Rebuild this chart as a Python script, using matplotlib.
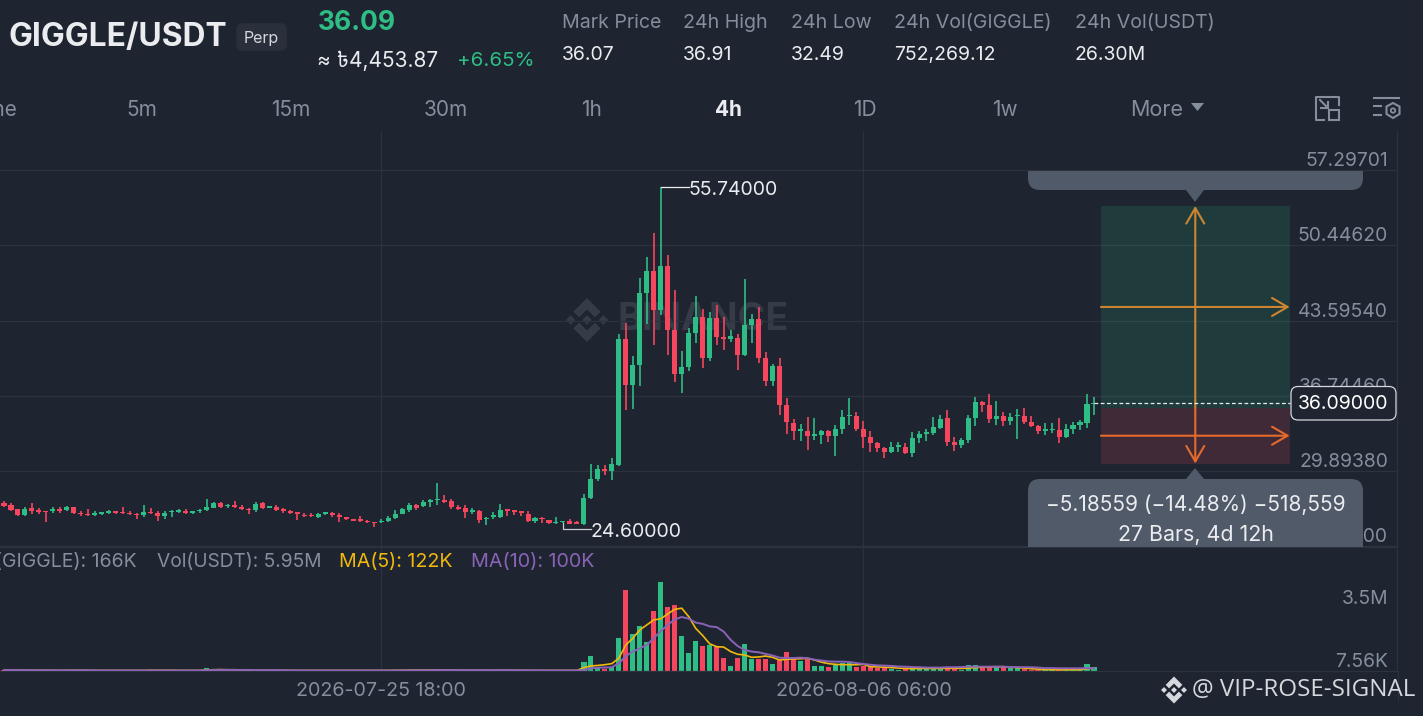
import matplotlib
matplotlib.use("Agg")
import matplotlib.pyplot as plt
from matplotlib.patches import FancyBboxPatch, Polygon, Rectangle, Circle

# candle values, one per 4h bar
open_prices = [
    26.99, 26.78, 26.42, 25.90, 26.51, 26.35, 26.23, 26.26, 26.42, 26.32,
    26.63, 26.11, 25.99, 25.93, 25.96, 26.08, 26.23, 26.17, 26.08, 25.99,
    25.90, 26.17, 26.08, 25.81, 26.17, 26.20, 26.29, 26.11, 26.26, 26.35,
    26.57, 26.99, 26.72, 26.84, 26.60, 26.48, 26.35, 26.96, 26.57, 26.66,
    26.42, 26.23, 26.11, 25.93, 25.93, 25.75, 26.02, 26.11, 25.90, 25.66,
    25.50, 25.54, 25.38, 25.26, 25.23, 25.32, 25.63, 26.02, 26.32, 26.81,
    26.69, 27.08, 27.26, 27.23, 27.14, 26.66, 26.57, 26.20, 26.23, 25.54,
    25.72, 25.75, 26.38, 26.29, 26.20, 26.02, 25.38, 25.66, 25.44, 25.17,
    25.26, 25.35, 25.29, 25.06, 27.42, 29.18, 30.09, 29.91, 30.48, 41.90,
    37.75, 39.57, 46.15, 48.09, 44.57, 48.60, 42.72, 38.78, 39.36, 42.48,
    43.96, 40.15, 43.81, 42.09, 41.96, 42.03, 40.45, 43.18, 43.72, 40.15,
    38.12, 39.42, 35.91, 34.30, 33.57, 33.57, 33.09, 33.19, 33.55, 33.07,
    33.74, 34.89, 34.95, 33.71, 33.01, 32.49, 32.01, 31.65, 32.10, 32.13,
    31.59, 32.89, 33.28, 33.34, 33.86, 34.71, 32.55, 32.25, 32.71, 34.77,
    36.19, 35.89, 34.65, 34.92, 34.49, 34.89, 34.92, 34.34, 34.01, 33.59,
    33.62, 33.68, 33.01, 33.77, 34.13, 34.31, 35.99,
]
close_prices = [
    26.75, 26.38, 25.90, 26.48, 26.29, 26.14, 26.14, 26.42, 26.23, 26.66,
    26.05, 25.96, 25.87, 26.11, 26.14, 26.26, 26.08, 26.05, 25.96, 25.90,
    26.17, 26.05, 25.81, 26.11, 26.29, 26.38, 26.11, 26.23, 26.38, 26.60,
    26.99, 26.63, 26.84, 26.63, 26.42, 26.35, 26.90, 26.54, 26.72, 26.38,
    26.23, 26.08, 26.02, 25.78, 25.78, 25.99, 26.14, 25.87, 25.75, 25.57,
    25.38, 25.38, 25.26, 25.14, 25.38, 25.66, 25.96, 26.42, 26.78, 26.57,
    27.08, 27.23, 27.35, 27.11, 26.60, 26.44, 26.17, 26.35, 25.45, 25.66,
    25.90, 26.35, 26.29, 26.20, 26.11, 25.32, 25.66, 25.50, 25.14, 25.29,
    25.38, 25.11, 25.08, 27.42, 29.18, 30.09, 29.94, 30.51, 41.90, 37.75,
    39.57, 46.15, 48.09, 44.57, 48.60, 42.72, 38.78, 39.36, 42.48, 43.96,
    40.15, 43.81, 42.12, 41.96, 42.15, 40.45, 43.18, 43.72, 40.15, 38.12,
    39.42, 35.91, 34.33, 33.57, 33.72, 33.09, 33.27, 33.55, 33.07, 33.74,
    34.86, 35.04, 33.71, 33.01, 32.49, 32.04, 31.68, 32.07, 32.25, 31.56,
    32.89, 33.25, 33.46, 33.89, 34.68, 32.55, 32.28, 32.74, 34.74, 36.19,
    35.92, 34.65, 34.92, 34.49, 34.86, 35.04, 34.34, 34.01, 33.55, 33.71,
    33.77, 33.01, 33.74, 34.10, 34.37, 36.04, 36.09,
]
high_prices = [
    27.17, 26.99, 26.48, 26.60, 26.96, 26.54, 26.23, 26.60, 26.63, 26.72,
    26.63, 26.23, 26.42, 26.26, 26.17, 26.32, 26.26, 26.60, 26.23, 26.05,
    26.78, 26.54, 26.29, 26.23, 26.35, 26.48, 26.44, 26.26, 26.44, 27.35,
    27.05, 27.08, 26.90, 27.14, 26.78, 26.54, 27.08, 27.08, 26.75, 26.78,
    26.54, 26.32, 26.20, 26.05, 26.11, 26.08, 26.17, 26.17, 26.05, 25.69,
    25.57, 25.81, 25.44, 25.29, 25.50, 25.81, 26.32, 26.54, 26.96, 26.93,
    27.26, 27.38, 28.78, 27.69, 27.38, 26.84, 26.84, 26.57, 26.32, 25.72,
    26.14, 26.93, 26.44, 26.35, 26.26, 26.23, 25.69, 25.72, 25.48, 25.72,
    25.38, 25.50, 25.38, 27.79, 30.54, 30.45, 30.45, 31.06, 42.39, 43.42,
    40.39, 47.48, 49.36, 51.54, 55.74, 49.54, 46.39, 40.81, 42.93, 45.81,
    44.63, 44.36, 44.97, 43.96, 42.75, 42.39, 47.39, 44.15, 44.87, 40.75,
    39.66, 40.18, 36.57, 34.60, 34.18, 34.81, 34.72, 33.65, 33.65, 34.07,
    35.43, 36.55, 35.31, 34.46, 33.55, 32.59, 32.07, 32.55, 32.52, 32.43,
    33.46, 33.55, 33.71, 34.83, 35.04, 35.43, 32.98, 32.89, 35.04, 36.62,
    36.28, 36.92, 36.28, 35.28, 35.19, 35.55, 35.65, 34.92, 34.10, 34.25,
    34.28, 34.74, 34.19, 34.37, 34.55, 36.92, 36.62,
]
low_prices = [
    26.63, 26.29, 25.84, 25.84, 26.02, 25.99, 25.26, 26.08, 26.11, 26.23,
    26.02, 25.81, 25.78, 25.84, 25.90, 25.99, 26.02, 25.99, 25.90, 25.54,
    25.69, 25.99, 25.38, 25.50, 25.75, 26.05, 25.96, 25.99, 26.08, 26.29,
    26.51, 26.51, 26.54, 26.54, 26.35, 25.96, 26.20, 26.48, 26.51, 26.29,
    26.05, 25.99, 25.45, 25.72, 25.72, 25.60, 25.93, 25.75, 25.26, 25.48,
    25.32, 25.29, 25.20, 24.81, 25.17, 25.26, 25.50, 25.96, 26.20, 26.38,
    26.63, 26.66, 26.84, 27.02, 26.48, 26.38, 25.66, 25.99, 25.20, 24.99,
    25.54, 25.66, 25.84, 25.93, 25.78, 25.26, 25.20, 25.20, 25.11, 25.08,
    25.14, 25.05, 25.05, 25.00, 27.36, 29.00, 29.54, 29.09, 30.39, 35.42,
    35.54, 37.60, 43.27, 41.33, 44.06, 40.42, 38.03, 36.99, 38.97, 41.51,
    39.27, 39.90, 41.33, 40.93, 41.66, 39.06, 40.33, 41.60, 39.78, 37.60,
    37.60, 35.03, 33.30, 32.69, 32.60, 31.78, 32.69, 32.34, 32.52, 31.28,
    33.25, 34.13, 33.52, 32.04, 31.68, 31.68, 31.13, 31.59, 31.68, 31.46,
    31.16, 32.49, 32.62, 33.22, 33.77, 32.22, 31.77, 32.04, 32.49, 34.04,
    35.31, 34.31, 34.10, 34.01, 34.10, 32.80, 34.22, 33.89, 33.25, 33.22,
    33.34, 32.46, 32.95, 33.31, 33.68, 33.80, 34.98,
]
# volume in millions of USDT
volumes = [
    0.03, 0.04, 0.05, 0.05, 0.03, 0.03, 0.04, 0.02, 0.03, 0.03,
    0.05, 0.03, 0.03, 0.02, 0.02, 0.02, 0.02, 0.03, 0.02, 0.03,
    0.04, 0.03, 0.04, 0.04, 0.03, 0.02, 0.03, 0.02, 0.02, 0.18,
    0.06, 0.05, 0.03, 0.03, 0.03, 0.03, 0.06, 0.05, 0.03, 0.03,
    0.03, 0.02, 0.03, 0.02, 0.02, 0.03, 0.02, 0.03, 0.03, 0.02,
    0.02, 0.02, 0.02, 0.03, 0.03, 0.04, 0.05, 0.05, 0.06, 0.04,
    0.06, 0.05, 0.09, 0.05, 0.06, 0.03, 0.05, 0.03, 0.06, 0.04,
    0.03, 0.07, 0.03, 0.02, 0.02, 0.05, 0.03, 0.03, 0.03, 0.03,
    0.03, 0.03, 0.03, 0.49, 0.83, 0.21, 0.13, 0.24, 1.82, 4.48,
    2.04, 2.50, 1.60, 3.31, 4.93, 3.56, 3.67, 1.97, 0.98, 1.67,
    1.39, 1.45, 1.32, 0.72, 0.28, 0.74, 1.51, 0.67, 0.68, 0.67,
    0.37, 0.61, 1.04, 0.65, 0.53, 0.65, 0.28, 0.28, 0.22, 0.39,
    0.43, 0.43, 0.22, 0.30, 0.24, 0.19, 0.19, 0.13, 0.07, 0.12,
    0.15, 0.15, 0.15, 0.15, 0.09, 0.15, 0.15, 0.03, 0.34, 0.31,
    0.19, 0.25, 0.24, 0.24, 0.15, 0.21, 0.09, 0.06, 0.06, 0.06,
    0.07, 0.07, 0.06, 0.06, 0.07, 0.39, 0.24,
]
ma5_values = [
    0.05, 0.05, 0.05, 0.05, 0.04, 0.04, 0.04, 0.04, 0.03, 0.04,
    0.04, 0.04, 0.04, 0.03, 0.03, 0.03, 0.03, 0.03, 0.03, 0.03,
    0.03, 0.04, 0.04, 0.04, 0.04, 0.03, 0.03, 0.03, 0.03, 0.06,
    0.07, 0.08, 0.07, 0.07, 0.05, 0.04, 0.04, 0.04, 0.04, 0.04,
    0.04, 0.03, 0.03, 0.03, 0.03, 0.03, 0.03, 0.03, 0.03, 0.03,
    0.03, 0.03, 0.03, 0.03, 0.03, 0.03, 0.04, 0.04, 0.05, 0.05,
    0.05, 0.05, 0.06, 0.06, 0.06, 0.05, 0.05, 0.04, 0.05, 0.04,
    0.04, 0.05, 0.05, 0.04, 0.04, 0.03, 0.03, 0.03, 0.03, 0.03,
    0.03, 0.03, 0.03, 0.19, 0.28, 0.31, 0.35, 0.41, 0.71, 1.45,
    1.82, 2.28, 2.56, 2.84, 2.90, 3.17, 3.43, 3.49, 3.02, 2.37,
    1.97, 1.51, 1.35, 1.33, 1.08, 0.93, 0.89, 0.76, 0.78, 0.83,
    0.76, 0.61, 0.65, 0.67, 0.68, 0.71, 0.61, 0.49, 0.41, 0.37,
    0.35, 0.35, 0.35, 0.37, 0.24, 0.23, 0.21, 0.19, 0.16, 0.14,
    0.13, 0.14, 0.14, 0.14, 0.14, 0.15, 0.15, 0.14, 0.16, 0.19,
    0.21, 0.23, 0.24, 0.24, 0.21, 0.19, 0.16, 0.13, 0.10, 0.08,
    0.07, 0.07, 0.07, 0.07, 0.07, 0.13, 0.16,
]
ma10_values = [
    0.05, 0.05, 0.05, 0.05, 0.05, 0.04, 0.04, 0.04, 0.04, 0.04,
    0.04, 0.04, 0.04, 0.04, 0.03, 0.03, 0.03, 0.03, 0.03, 0.03,
    0.03, 0.03, 0.03, 0.03, 0.03, 0.03, 0.03, 0.03, 0.03, 0.05,
    0.05, 0.06, 0.06, 0.06, 0.06, 0.06, 0.05, 0.05, 0.05, 0.05,
    0.04, 0.04, 0.03, 0.03, 0.03, 0.03, 0.03, 0.03, 0.03, 0.03,
    0.03, 0.03, 0.03, 0.03, 0.03, 0.03, 0.03, 0.03, 0.04, 0.04,
    0.04, 0.04, 0.05, 0.05, 0.05, 0.05, 0.05, 0.05, 0.05, 0.05,
    0.05, 0.05, 0.05, 0.05, 0.04, 0.04, 0.04, 0.04, 0.03, 0.03,
    0.03, 0.03, 0.03, 0.06, 0.15, 0.19, 0.19, 0.21, 0.43, 0.83,
    1.08, 1.26, 1.45, 1.82, 2.22, 2.56, 2.87, 3.00, 2.91, 2.69,
    2.62, 2.48, 2.44, 2.19, 1.73, 1.39, 1.17, 1.08, 1.04, 0.95,
    0.86, 0.74, 0.72, 0.72, 0.74, 0.71, 0.63, 0.58, 0.53, 0.52,
    0.52, 0.50, 0.44, 0.39, 0.35, 0.31, 0.30, 0.28, 0.25, 0.24,
    0.22, 0.21, 0.19, 0.19, 0.19, 0.21, 0.21, 0.22, 0.24, 0.24,
    0.24, 0.24, 0.24, 0.24, 0.22, 0.22, 0.21, 0.21, 0.19, 0.16,
    0.16, 0.15, 0.15, 0.15, 0.15, 0.16, 0.16,
]

price_ticks = [57.29701, 50.44620, 43.59540, 36.74460, 29.89380, 23.04300]
price_labels = ["57.29701", "50.44620", "43.59540", "36.74460", "29.89380", "23.04300"]
vol_ticks = [3.5, 0.00756]
vol_labels = ["3.5M", "7.56K"]
time_ticks = [54, 123]
time_labels = ["2026-07-25 18:00", "2026-08-06 06:00"]
tabs = ["5m", "15m", "30m", "1h", "4h", "1D", "1w"]
tab_x = [142, 291, 446, 592, 728, 865, 1005]
stat_names = ["Mark Price", "24h High", "24h Low", "24h Vol(GIGGLE)", "24h Vol(USDT)"]
stat_values = ["36.07", "36.91", "32.49", "752,269.12", "26.30M"]
stat_x = [562, 683, 791, 894, 1075]

last_price = 36.09
high_price = 55.74
low_price = 24.60
high_bar = 94
low_bar = 80
# long position tool
tool_start, tool_end = 157, 184
target_price, entry_price, stop_price = 54.02, 35.65, 30.59

BG = "#1e2530"
GRID = "#2c333e"
GREEN = "#2ebd85"
RED = "#f6465d"
GREY = "#848e9c"
WHITE = "#eaecef"
TOOLTIP = "#505a68"
W, H = 1423, 716
FONT = ["Inter", "DejaVu Sans"]
plt.rcParams["font.family"] = FONT


def px_rect(left, top, right, bottom):
    return [left / W, 1 - bottom / H, (right - left) / W, (bottom - top) / H]


def draw_logo(ax, cx, cy, r, color, zorder=1):
    # small diamonds and the two chevrons of the exchange logo
    def diamond(x, y, s):
        ax.add_patch(Polygon([(x - s, y), (x, y - s), (x + s, y), (x, y + s)],
                             color=color, lw=0, zorder=zorder))
    diamond(cx, cy, r * 0.22)
    diamond(cx - r * 0.74, cy, r * 0.22)
    diamond(cx + r * 0.74, cy, r * 0.22)
    for sign in (-1, 1):
        ax.add_patch(Polygon([(cx, cy + sign * r), (cx + r * 0.62, cy + sign * r * 0.38),
                              (cx + r * 0.36, cy + sign * r * 0.12), (cx, cy + sign * r * 0.48),
                              (cx - r * 0.36, cy + sign * r * 0.12), (cx - r * 0.62, cy + sign * r * 0.38)],
                             color=color, lw=0, zorder=zorder))


def px_to_bar(x):
    return (x - 4) / 6.987


def px_to_price(y):
    return 57.297 - (y - 170) / 10.99


def style_panel(panel):
    for side in ("top", "left"):
        panel.spines[side].set_visible(False)
    for side in ("bottom", "right"):
        panel.spines[side].set_color(GRID)
        panel.spines[side].set_linewidth(0.9)
    panel.set_axisbelow(True)
    panel.patch.set_alpha(0)


fig = plt.figure(figsize=(W / 100, H / 100), dpi=100, facecolor=BG)

# watermark sits under the candles
under = fig.add_axes([0, 0, 1, 1], zorder=0)
under.set_xlim(0, W)
under.set_ylim(H, 0)
under.axis("off")
draw_logo(under, 587, 320, 22, "#363c47")
under.text(618, 320, "BINANCE", color="#363c47", fontsize=27, fontweight="bold", va="center")

bars = list(range(len(open_prices)))
colors = [GREEN if c >= o else RED for o, c in zip(open_prices, close_prices)]
body_bottom = [min(o, c) for o, c in zip(open_prices, close_prices)]
body_height = [max(abs(c - o), 0.12) for o, c in zip(open_prices, close_prices)]

# price panel
ax = fig.add_axes(px_rect(0, 131, 1397, 547), zorder=1)
style_panel(ax)
ax.set_xlim(px_to_bar(0), px_to_bar(1397))
ax.set_ylim(px_to_price(547), px_to_price(131))
ax.vlines(bars, low_prices, high_prices, colors=colors, lw=1.2, zorder=3)
ax.bar(bars, body_height, bottom=body_bottom, width=0.72, color=colors, lw=0, zorder=3)
ax.set_yticks(price_ticks)
ax.set_yticklabels(price_labels, va="bottom", ha="right", color=GREY, fontsize=13.9)
ax.yaxis.tick_right()
ax.tick_params(axis="y", length=0, pad=-6.5)
ax.set_xticks(time_ticks)
ax.tick_params(axis="x", length=0, labelbottom=False)
ax.grid(True, color=GRID, lw=0.9)

# highest / lowest markers
ax.plot([high_bar, high_bar + 4], [high_price, high_price], color=WHITE, lw=0.9, zorder=4)
ax.text(high_bar + 4, high_price - 0.3, f"{high_price:.5f}", color=WHITE, fontsize=14,
        va="center", zorder=4)
ax.plot([low_bar, low_bar, low_bar + 4], [low_prices[low_bar], low_price, low_price],
        color="#c9ccd1", lw=0.9, zorder=4)
ax.text(low_bar + 4, low_price - 0.27, f"{low_price:.5f}", color=WHITE, fontsize=14,
        va="center", zorder=4)

# long position tool
ax.add_patch(Rectangle((tool_start, entry_price), tool_end - tool_start, target_price - entry_price,
                       color="#26b07e", alpha=0.16, lw=0, zorder=2))
ax.add_patch(Rectangle((tool_start, stop_price), tool_end - tool_start, entry_price - stop_price,
                       color=RED, alpha=0.16, lw=0, zorder=2))
tool_mid = (tool_start + tool_end) / 2
upper_mid = (target_price + entry_price) / 2
lower_mid = (stop_price + entry_price) / 2
UP_ARROW = "#cd8534"
DOWN_ARROW = "#e56b2c"
HEAD = "->,head_length=0.62,head_width=0.36"
for start, end, col in [((tool_mid, entry_price), (tool_mid, target_price), UP_ARROW),
                        ((tool_mid, entry_price), (tool_mid, stop_price), DOWN_ARROW),
                        ((tool_start, upper_mid), (tool_end, upper_mid), UP_ARROW),
                        ((tool_start, lower_mid), (tool_end, lower_mid), DOWN_ARROW)]:
    ax.annotate("", xy=end, xytext=start, zorder=5,
                arrowprops=dict(arrowstyle=HEAD, color=col, lw=1.5, mutation_scale=18,
                                shrinkA=0, shrinkB=0))
ax.plot([bars[-1], tool_end], [last_price, last_price], color=WHITE, lw=0.9, ls=(0, (3, 2)), zorder=5)

# volume panel
vol_ax = fig.add_axes(px_rect(0, 547, 1397, 671), zorder=1, sharex=ax)
style_panel(vol_ax)
vol_ax.set_ylim(0, 6.89)
vol_ax.bar(bars, volumes, width=0.74, color=colors, lw=0, zorder=2)
vol_ax.plot(bars, ma5_values, color="#f0b90b", lw=1.2, zorder=3)
vol_ax.plot(bars, ma10_values, color="#8a63b8", lw=1.4, zorder=4)
vol_ax.set_yticks(vol_ticks)
vol_ax.set_yticklabels(vol_labels, va="bottom", ha="right", color=GREY, fontsize=13.9)
vol_ax.yaxis.tick_right()
vol_ax.tick_params(axis="y", length=0, pad=-6.5)
vol_ax.set_xticks(time_ticks)
vol_ax.set_xticklabels(time_labels, color=GREY, fontsize=14.2)
vol_ax.tick_params(axis="x", length=0, pad=8)
vol_ax.grid(True, axis="x", color=GRID, lw=0.9)

# everything on top of the chart, in screen pixels
ui = fig.add_axes([0, 0, 1, 1], zorder=5)
ui.set_xlim(0, W)
ui.set_ylim(H, 0)
ui.axis("off")
ui.patch.set_alpha(0)
ui.plot([1397.5, 1397.5], [671, 700], color=GRID, lw=0.9)

# header
ui.text(9, 38, "GIGGLE/USDT", color=WHITE, fontsize=22.9, fontweight="bold", va="center")
ui.add_patch(FancyBboxPatch((239, 26), 45, 22, boxstyle="round,pad=0,rounding_size=3",
                            fc="#2a303b", ec="#2a303b", lw=4))
ui.text(261.5, 38, "Perp", color="#d5d8dc", fontsize=11.5, ha="center", va="center")
ui.text(318, 23, "36.09", color=GREEN, fontsize=19, fontweight="bold", va="center")
ui.text(317, 61, "≈ ৳4,453.87", color=WHITE, fontsize=15, va="center",
        family=["Inter", "Noto Sans Bengali", "DejaVu Sans"])
ui.text(457, 61, "+6.65%", color=GREEN, fontsize=14.8, va="center")
for name, value, x in zip(stat_names, stat_values, stat_x):
    ui.text(x, 23, name, color=GREY, fontsize=14.1, va="center")
    ui.text(x, 55, value, color=WHITE, fontsize=14, va="center")

# timeframe tabs
ui.text(17, 110, "Time", color=GREY, fontsize=15, ha="right", va="center")
for name, x in zip(tabs, tab_x):
    active = name == "4h"
    ui.text(x, 110, name, color=WHITE if active else GREY, fontsize=15, ha="center", va="center",
            fontweight="bold" if active else "normal")
ui.text(1130, 110, "More", color=GREY, fontsize=15.5, va="center")
ui.add_patch(Polygon([(1191, 103), (1204, 103), (1197.5, 111)], color=GREY, lw=0))

# toolbar icons
ui.plot([1324, 1315.5, 1315.5, 1338.5, 1338.5], [119.5, 119.5, 96.5, 96.5, 105], color=GREY, lw=1.5)
ui.add_patch(Rectangle((1328.5, 110), 10, 10, fill=False, ec=GREY, lw=1.5))
ui.plot([1320, 1328], [100, 108], color=GREY, lw=1.5)
ui.plot([1321, 1328, 1328], [108, 108, 102], color=GREY, lw=1.5)
ui.plot([1374, 1399], [97.5, 97.5], color=GREY, lw=1.5)
ui.plot([1374, 1381], [105.5, 105.5], color=GREY, lw=1.5)
ui.plot([1374, 1381], [114.5, 114.5], color=GREY, lw=1.5)
ui.add_patch(Polygon([(1393, 103), (1399.5, 106.5), (1399.5, 114), (1393, 118), (1386.5, 114), (1386.5, 106.5)],
                     fill=False, ec=GREY, lw=1.5))
ui.add_patch(Circle((1393, 110.5), 2.2, fill=False, ec=GREY, lw=1.3))

# volume legend
ui.text(137, 562, "Vol(GIGGLE): 166K", color=GREY, fontsize=14, ha="right", va="center")
ui.text(157, 562, "Vol(USDT): 5.95M", color=GREY, fontsize=13.8, va="center")
ui.text(339, 562, "MA(5): 122K", color="#f0b90b", fontsize=14.1, va="center")
ui.text(471, 562, "MA(10): 100K", color="#8a63b8", fontsize=14.2, va="center")

# tooltips of the position tool, both are cut off by their panels
top_tip = ui.add_patch(FancyBboxPatch((1028, 150), 335, 40, boxstyle="round,pad=0,rounding_size=12",
                                      fc=TOOLTIP, lw=0))
top_tip.set_clip_path(Rectangle((1000 / W, 1 - 200 / H), 400 / W, 29.5 / H, transform=ui.transAxes))
ui.add_patch(Polygon([(1186, 190), (1204, 190), (1195, 202)], color=TOOLTIP, lw=0))
low_tip = ui.add_patch(FancyBboxPatch((1028, 479), 335, 90, boxstyle="round,pad=0,rounding_size=12",
                                      fc=TOOLTIP, lw=0))
low_tip.set_clip_path(Rectangle((1000 / W, 1 - 547 / H), 400 / W, 87 / H, transform=ui.transAxes))
ui.add_patch(Polygon([(1186, 479), (1204, 479), (1195, 468)], color=TOOLTIP, lw=0))
ui.text(1195.5, 505, "−5.18559 (−14.48%) −518,559", color=WHITE, fontsize=15, ha="center", va="center")
ui.text(1195.5, 535, "27 Bars, 4d 12h", color=WHITE, fontsize=15.4, ha="center", va="center")

# last price label
ui.add_patch(FancyBboxPatch((1291, 386.5), 105, 33.5, boxstyle="round,pad=0,rounding_size=7",
                            fc=BG, ec="#d5d8dc", lw=0.9))
ui.text(1343.5, 404, "36.09000", color="white", fontsize=14, ha="center", va="center")

# signature
draw_logo(ui, 1174, 690, 13.5, "#d5d8dc", zorder=3)
ui.text(1192, 690, "@ VIP-ROSE-SIGNAL", color="#d5d8dc", fontsize=17.4, va="center",
        family=["Open Sans", "DejaVu Sans"])

fig.savefig("out.png", dpi=100, facecolor=BG)
